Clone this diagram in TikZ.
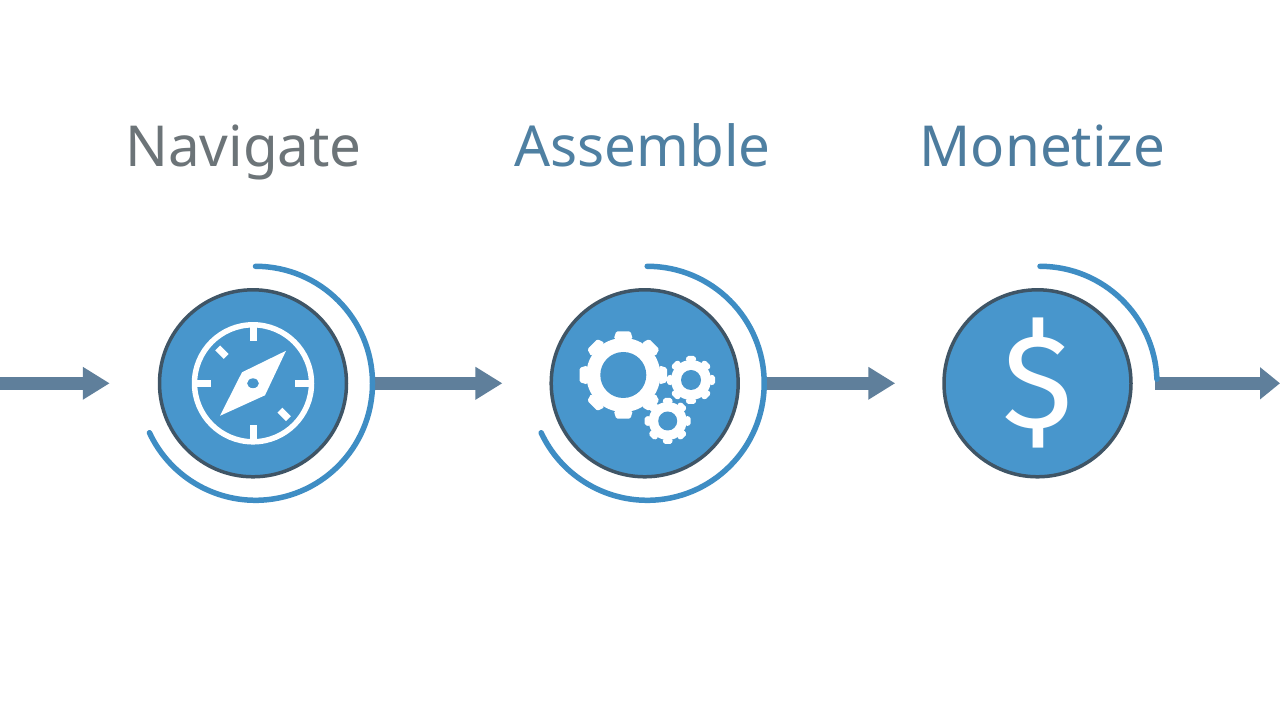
\documentclass[tikz,border=0pt]{standalone}
\usepackage{fontspec}
\setmainfont{Noto Sans}
\newfontfamily\dollarfont{Fira Sans}
\usetikzlibrary{arrows.meta,calc}
\definecolor{discblue}{HTML}{4896CC}
\definecolor{ringblue}{HTML}{3E8DC4}
\definecolor{discedge}{HTML}{3F5566}
\definecolor{flowcol}{HTML}{5F7F9B}
\definecolor{navcol}{HTML}{6C7478}
\definecolor{asmcol}{HTML}{4F80A2}
\definecolor{moncol}{HTML}{4D7C9E}
\tikzset{
  disc/.style={circle,draw=discedge,fill=discblue,line width=3.5pt,minimum size=187pt,inner sep=0pt},
  ring/.style={draw=ringblue,line width=5.5pt,line cap=round},
  flow/.style={draw=flowcol,line width=13pt,-{Triangle[length=27pt,width=31pt]}},
  lastflow/.style={draw=flowcol,line width=13pt,-{Triangle[length=20pt,width=31pt]}},
  heading/.style={anchor=base,font=\fontsize{56.5pt}{60pt}\selectfont},
  whiteline/.style={draw=white,line width=5.5pt},
  tooth/.style={fill=white,rounded corners=1.5pt},
}
\newcommand{\gearicon}[6]{%
  % x y outer root hole toothhalfwidth
  \begin{scope}[shift={(#1,#2)}]
    \fill[white] (0,0) circle[radius=#4];
    \foreach \a in {0,45,...,315}{
      \fill[tooth,rotate=\a] (#4-1,-#6) -- (#3,-#6*0.75) -- (#3,#6*0.75) -- (#4-1,#6) -- cycle;
    }
    \fill[discblue] (0,0) circle[radius=#5];
  \end{scope}}
\begin{document}
\begin{tikzpicture}[x=1pt,y=1pt]
\useasboundingbox (0,0) rectangle (1280,720);
\fill[white] (0,0) rectangle (1280,720);
% headings
\node[heading,text=navcol] (t1) at (243.5,553) {Navigate};
\node[heading,text=asmcol] (t2) at (642.5,553) {Assemble};
\node[heading,text=moncol] (t3) at (1042.5,553) {Monetize};
% discs
\node[disc] (n1) at (253,336.7) {};
\node[disc] (n2) at (644.7,336.7) {};
\node[disc] (n3) at (1037.5,336.7) {};
\coordinate (inleft) at (0,336.7);
\coordinate (outright) at (1280,336.7);
% arrows
\draw[flow,shorten >=48pt] (inleft) -- (n1);
\draw[flow,shorten <=25pt,shorten >=47pt] (n1) -- (n2);
\draw[flow,shorten <=25pt,shorten >=47pt] (n2) -- (n3);
\draw[lastflow,shorten <=22pt] (n3) -- (outright);
% rings
\draw[ring] (n1) ++(2.5,0) ++(90:117) arc[start angle=90,end angle=-155,radius=117];
\draw[ring] (n2) ++(2.5,0) ++(90:117) arc[start angle=90,end angle=-155,radius=117];
\draw[ring] (n3) ++(2.5,0) ++(90:117) arc[start angle=90,end angle=2,radius=117];
% compass
\begin{scope}[shift={(n1)}]
  \draw[whiteline] (0,0) circle[radius=58.5];
  \foreach \a in {0,90,180,270}{
    \draw[whiteline,line width=7pt] (\a:58) -- (\a:42);
  }
  \foreach \a in {135,-45}{
    \draw[whiteline,line width=7pt] (\a:50) -- (\a:38);
  }
  \fill[white,even odd rule] (33,32.5) -- (12,-12) -- (-33,-32.5) -- (-11,11) -- cycle
     (0,0) circle[x radius=6,y radius=5];
\end{scope}
% gears
\gearicon{623.3}{345}{43.7}{37}{23}{9.5}
\gearicon{691}{340}{24}{20}{10}{5.5}
\gearicon{667.7}{299}{23}{19}{9.5}{5.3}
% dollar
\node[text=white,inner sep=0pt,font=\dollarfont\fontsize{133pt}{133pt}\selectfont] (d) at (n3) {\$};
\end{tikzpicture}
\end{document}
